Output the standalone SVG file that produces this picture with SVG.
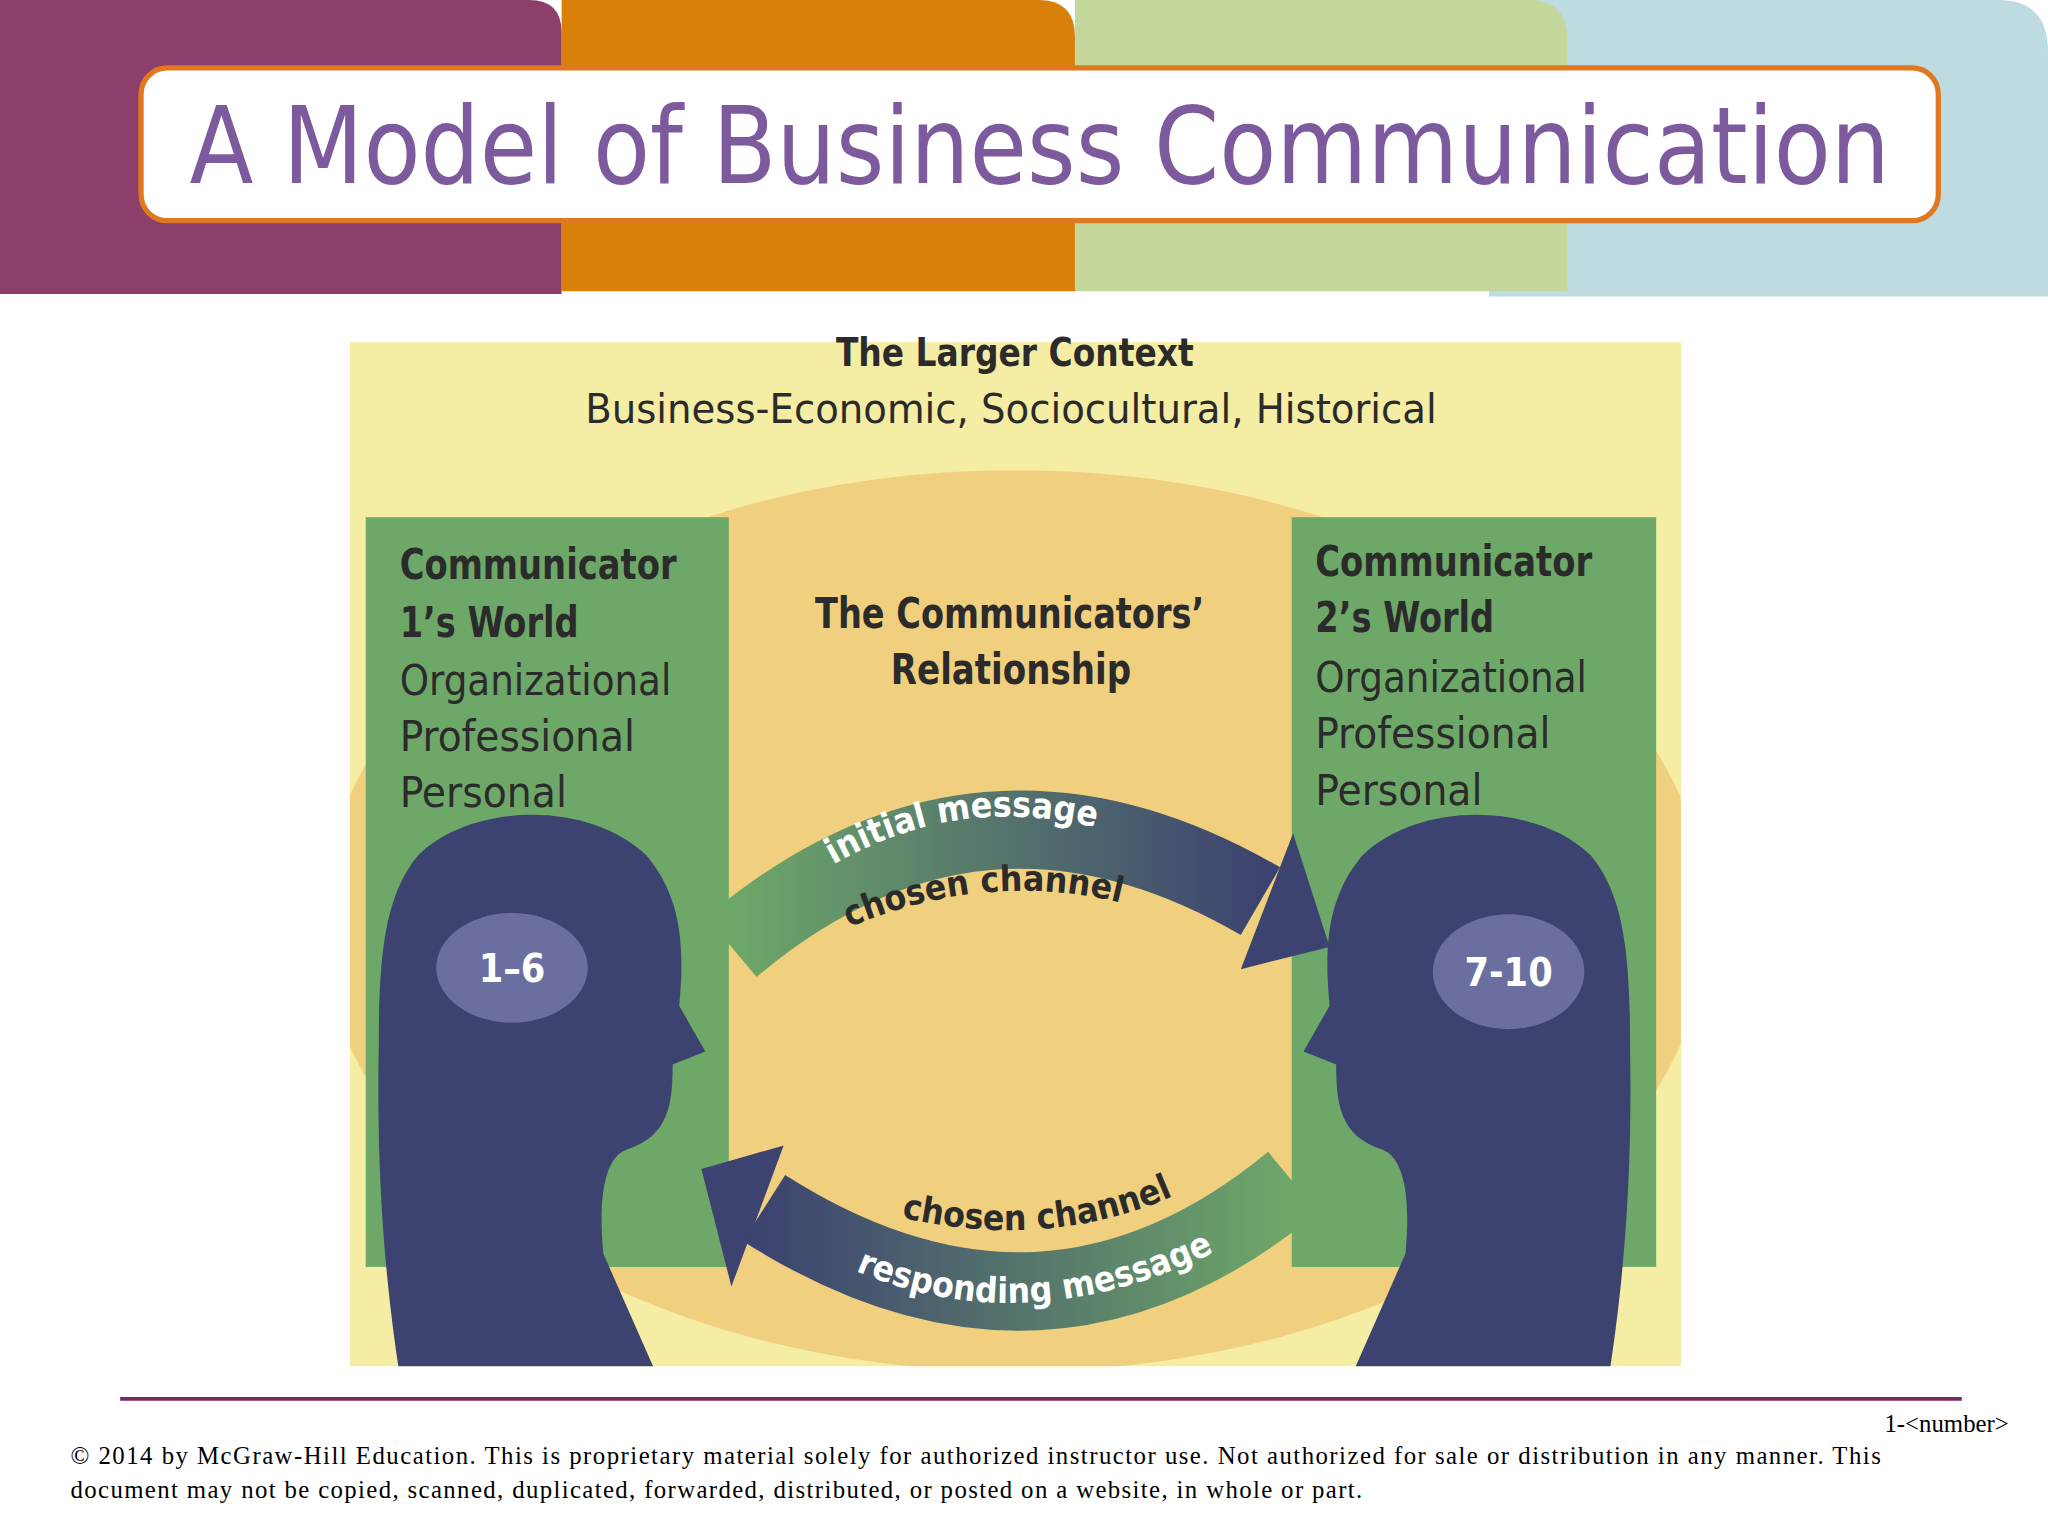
<svg xmlns="http://www.w3.org/2000/svg" width="2048" height="1536" viewBox="0 0 2048 1536">
<defs>
<style>
.h{font-family:"DejaVu Sans Condensed","DejaVu Sans",sans-serif;font-weight:bold;fill:#2b2b2b}
.n{font-family:"DejaVu Sans Condensed","DejaVu Sans",sans-serif;fill:#2b2b2b}
.ft{font-family:"Liberation Serif",serif;font-size:19px;fill:#000}
.arr{font-family:"DejaVu Sans Condensed","DejaVu Sans",sans-serif;font-weight:bold;font-size:27px}
</style>
<linearGradient id="g1" x1="0" y1="0" x2="1" y2="0"><stop offset="0" stop-color="#6EA868"/><stop offset="1" stop-color="#3D4370"/></linearGradient>
<linearGradient id="g2" x1="1" y1="0" x2="0" y2="0"><stop offset="0" stop-color="#6EA868"/><stop offset="1" stop-color="#3D4370"/></linearGradient>
<clipPath id="cp"><rect x="268" y="262" width="1019" height="784"/></clipPath>
<path id="head" d="M305,1046 C295,980 288,900 290,800 C290,730 295,685 320,655 C360,615 450,612 495,655 C520,685 525,720 520,770 L540,805 L515,815 C515,845 512,870 480,880 C462,886 458,920 462,960 L500,1046 Z" fill="#3D4370"/>
<path id="t1" d="M638,662 Q760,592 900,655"/>
<path id="t2" d="M650,710 Q780,655 910,708"/>
<path id="t3" d="M690,932 Q820,962 930,900"/>
<path id="t4" d="M655,973 Q800,1035 965,940"/>
</defs>
<g transform="scale(1.30612)">
<g id="banner">
<path d="M1140,0 H1530 Q1568,0 1568,40 V227 H1140 Z" fill="#BEDBE2"/>
<path d="M823,0 H1170 Q1200,0 1200,30 V223 H823 Z" fill="#C5D89B"/>
<path d="M430,0 H795 Q823,0 823,28 V223 H430 Z" fill="#D9800A"/>
<path d="M0,0 H405 Q430,0 430,25 V225 H0 Z" fill="#8B3F6A"/>
</g>
<g id="title">
<rect x="108" y="52" width="1376" height="117" rx="20" fill="#fff" stroke="#E07820" stroke-width="4"/>
<text x="145" y="140" textLength="1302" lengthAdjust="spacingAndGlyphs" font-family="DejaVu Sans Condensed, DejaVu Sans, sans-serif" font-size="82" fill="#7D5A9E">A Model of Business Communication</text>
</g>
<g id="context">
<rect x="268" y="262" width="1019" height="784" fill="#F5EDA4"/>
<ellipse cx="777" cy="705" rx="530" ry="345" fill="#F0D07E" clip-path="url(#cp)"/>
<text x="640" y="280" textLength="274" lengthAdjust="spacingAndGlyphs" class="h" font-size="30">The Larger Context</text>
<text x="448" y="324" textLength="652" lengthAdjust="spacingAndGlyphs" class="n" font-size="31">Business-Economic, Sociocultural, Historical</text>
</g>
<g id="world1">
<rect x="280" y="396" width="278" height="574" fill="#6EA868"/>
<text class="h" font-size="32" x="306" y="443" textLength="212" lengthAdjust="spacingAndGlyphs">Communicator</text>
<text class="h" font-size="32" x="306" y="488" textLength="137" lengthAdjust="spacingAndGlyphs">1’s World</text>
<text class="n" font-size="32" x="306" y="532" textLength="208" lengthAdjust="spacingAndGlyphs">Organizational</text>
<text class="n" font-size="32" x="306" y="575" textLength="180" lengthAdjust="spacingAndGlyphs">Professional</text>
<text class="n" font-size="32" x="306" y="618" textLength="128" lengthAdjust="spacingAndGlyphs">Personal</text>
</g>
<g id="world2">
<rect x="989" y="396" width="279" height="574" fill="#6EA868"/>
<text class="h" font-size="32" x="1007" y="441" textLength="212" lengthAdjust="spacingAndGlyphs">Communicator</text>
<text class="h" font-size="32" x="1007" y="484" textLength="137" lengthAdjust="spacingAndGlyphs">2’s World</text>
<text class="n" font-size="32" x="1007" y="530" textLength="208" lengthAdjust="spacingAndGlyphs">Organizational</text>
<text class="n" font-size="32" x="1007" y="573" textLength="180" lengthAdjust="spacingAndGlyphs">Professional</text>
<text class="n" font-size="32" x="1007" y="616" textLength="128" lengthAdjust="spacingAndGlyphs">Personal</text>
</g>
<g id="relationship">
<text class="h" font-size="32" x="624" y="481" textLength="298" lengthAdjust="spacingAndGlyphs">The Communicators’</text>
<text class="h" font-size="32" x="682" y="524" textLength="184" lengthAdjust="spacingAndGlyphs">Relationship</text>
</g>
<g id="head1">
<use href="#head"/>
<ellipse cx="392" cy="741" rx="58" ry="42" fill="#6B6FA0"/>
<text class="h" font-size="30" x="392" y="752" text-anchor="middle" style="fill:#fff">1–6</text>
</g>
<g id="head2">
<use href="#head" transform="translate(1538,0) scale(-1,1)"/>
<ellipse cx="1155" cy="744" rx="58" ry="44" fill="#6B6FA0"/>
<text class="h" font-size="30" x="1155" y="755" text-anchor="middle" style="fill:#fff">7-10</text>
</g>
<g id="connectors">
<path d="M560,725 Q750,565 965,690" fill="none" stroke="url(#g1)" stroke-width="60"/>
<polygon points="990,638 1018,725 950,742" fill="#3D4370"/>
<path d="M990,905 Q800,1062 585,925" fill="none" stroke="url(#g2)" stroke-width="60"/>
<polygon points="600,877 560,985 537,895" fill="#3D4370"/>
<text class="arr" fill="#fff"><textPath href="#t1">initial message</textPath></text>
<text class="arr" fill="#2b2b2b"><textPath href="#t2">chosen channel</textPath></text>
<text class="arr" fill="#2b2b2b"><textPath href="#t3">chosen channel</textPath></text>
<text class="arr" fill="#fff"><textPath href="#t4">responding message</textPath></text>
</g>
<g id="footer">
<line x1="92" y1="1071" x2="1502" y2="1071" stroke="#7A2A62" stroke-width="3"/>
<text class="ft" x="1538" y="1096" text-anchor="end">1-&lt;number&gt;</text>
<text class="ft" x="54" y="1121" textLength="1386" lengthAdjust="spacing">© 2014 by McGraw-Hill Education.  This is proprietary material solely for authorized instructor use. Not authorized for sale or distribution in any manner.  This</text>
<text class="ft" x="54" y="1147" textLength="989" lengthAdjust="spacing">document may not be copied, scanned, duplicated, forwarded, distributed, or posted on a website, in whole or part.</text>
</g>
</g>
</svg>
